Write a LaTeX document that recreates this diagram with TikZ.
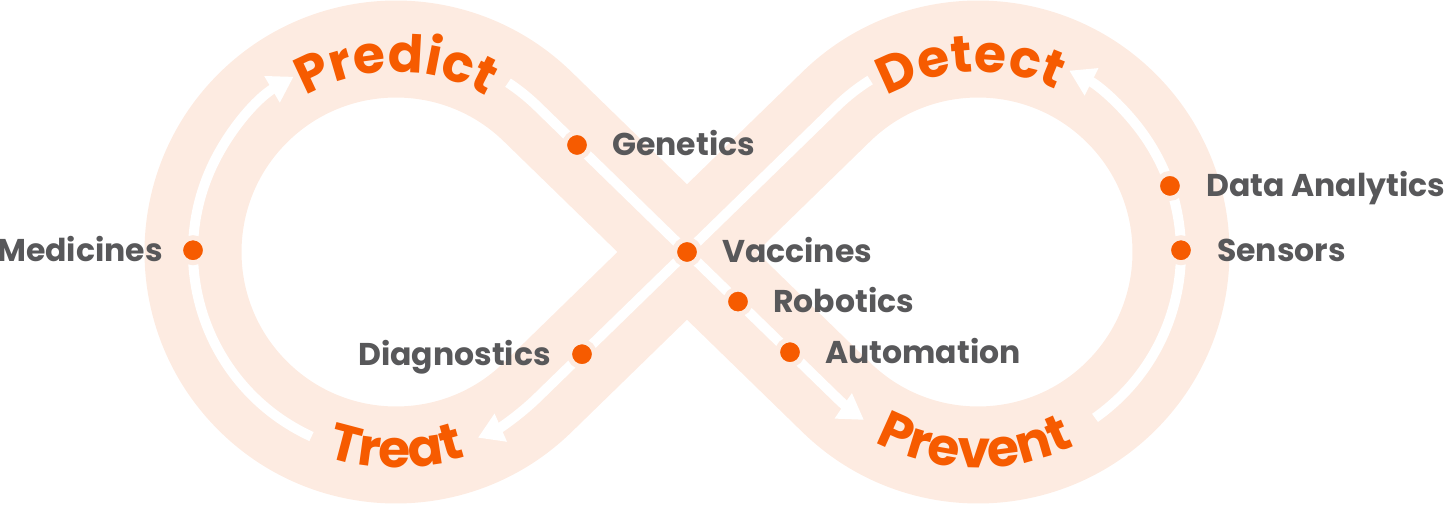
\documentclass[tikz,border=0pt]{standalone}
\usepackage{fontspec}
\setmainfont{Poppins}
\usetikzlibrary{arrows.meta,calc,decorations.text}
\definecolor{orng}{HTML}{F65B00}
\definecolor{band}{HTML}{FDEBE1}
\definecolor{txtgrey}{HTML}{58585A}
\newcommand\bigfont{\fontsize{52}{56}\selectfont\bfseries}
\begin{document}
\begin{tikzpicture}[x=1pt,y=1pt,
  bandline/.style={draw=band, line width=97pt, line join=round},
  flow/.style={draw=white, line width=10pt, -{Triangle[length=25pt,width=29pt]}},
  dot/.style={circle, fill=orng, draw=band, line width=5pt, minimum size=25pt, inner sep=0pt},
  lbl/.style={text=txtgrey, font=\fontsize{31.5}{38}\selectfont\bfseries, inner sep=0pt},
  bigtext/.style={decorate, decoration={text along path, text align=center, text color=orng, text={|\bigfont|#1}}}
]
\useasboundingbox (0,0) rectangle (1454,508);
\coordinate (L) at (396,256);
\coordinate (R) at (978,256);
\coordinate (X) at (687,256);

% band
\draw[bandline] ($(L)+(45.77:203)$) -- ($(R)+(225.77:203)$)
  arc[start angle=225.77,end angle=494.23,radius=203]
  -- ($(L)+(-45.77:203)$)
  arc[start angle=-45.77,end angle=-314.23,radius=203] -- cycle;

% flow arrows
\draw[flow] ($(L)+(245.4:203)$) arc[start angle=245.4,end angle=120.3,radius=203];
\draw[flow] ($(L)+(56.5:203)$) arc[start angle=56.5,end angle=45.77,radius=203]
  -- ($(R)+(225.77:203)$) arc[start angle=225.77,end angle=235.8,radius=203];
\draw[flow] ($(R)+(-54.8:203)$) arc[start angle=-54.8,end angle=63.3,radius=203];
\draw[flow] ($(R)+(122.1:203)$) arc[start angle=122.1,end angle=134.23,radius=203]
  -- ($(L)+(-45.77:203)$) arc[start angle=-45.77,end angle=-66.2,radius=203];

% curved titles
\path[bigtext=Predict] ($(L)+(160:180)$) arc[start angle=160,end angle=20,radius=180];
\path[bigtext=Detect] ($(R)+(162.3:180)$) arc[start angle=162.3,end angle=22.3,radius=180];
\path[bigtext=Treat] ($(L)+(200:216)$) arc[start angle=200,end angle=340,radius=216];
\path[bigtext=Prevent] ($(R)+(199:216)$) arc[start angle=199,end angle=339,radius=216];

% dots
\node[dot] (dMed) at ($(L)+(179.5:203)$) {};
\node[dot] (dGen) at (577,363) {};
\node[dot] (dVac) at (X) {};
\node[dot] (dRob) at (738,206.4) {};
\node[dot] (dAut) at (790,155.8) {};
\node[dot] (dDia) at (582,153.8) {};
\node[dot] (dDat) at ($(R)+(19:203)$) {};
\node[dot] (dSen) at ($(R)+(0.5:203)$) {};

% labels
\node[lbl, anchor=base east] (tMed) at ($(dMed)+(-30,-11)$) {Medicines};
\node[lbl, anchor=base west] (tGen) at ($(dGen)+(35,-11)$) {Genetics};
\node[lbl, anchor=base west] (tVac) at ($(dVac)+(35,-11)$) {Vaccines};
\node[lbl, anchor=base west] (tRob) at ($(dRob)+(35,-11)$) {Robotics};
\node[lbl, anchor=base west] (tAut) at ($(dAut)+(35,-11)$) {Automation};
\node[lbl, anchor=base east] (tDia) at ($(dDia)+(-31,-11)$) {Diagnostics};
\node[lbl, anchor=base west] (tDat) at ($(dDat)+(36,-11)$) {Data Analytics};
\node[lbl, anchor=base west] (tSen) at ($(dSen)+(36,-11)$) {Sensors};
\end{tikzpicture}
\end{document}
